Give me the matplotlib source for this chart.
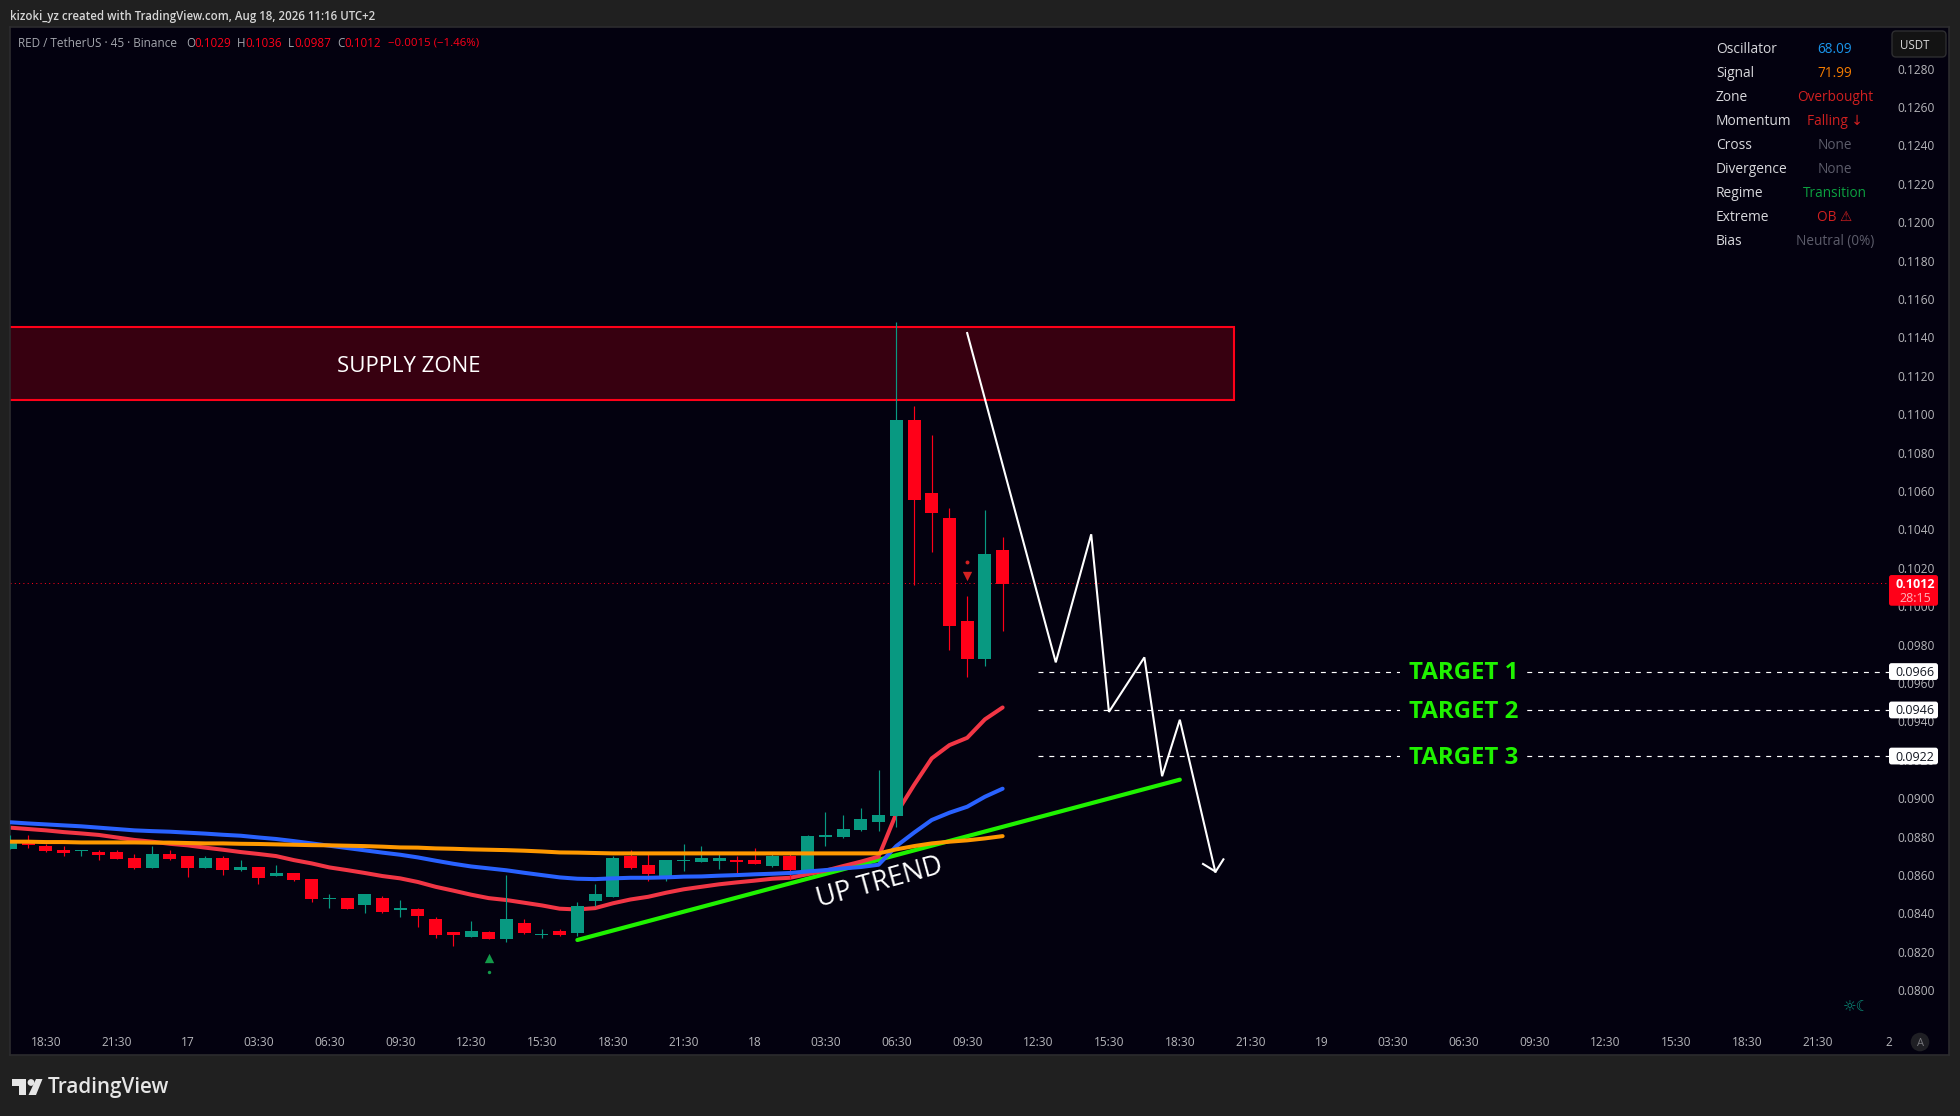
import numpy as np
import matplotlib
matplotlib.use("Agg")
import matplotlib.pyplot as plt
from matplotlib.patches import FancyBboxPatch, Polygon, Circle
from matplotlib.transforms import IdentityTransform

plt.rcParams['font.family'] = ['Open Sans', 'DejaVu Sans']

# ---------- data ----------
opens = [.08736,.08774,.08751,.08730,.08725,.08720,.08720,.08689,.08637,.08710,
         .08699,.08637,.08689,.08626,.08642,.08595,.08611,.08579,.08475,.08480,
         .08444,.08480,.08420,.08423,.08371,.08303,.08277,.08303,.08267,.08350,
         .08288,.08309,.08298,.08465,.08486,.08699,.08652,.08595,.08673,.08668,
         .08673,.08678,.08678,.08647,.08699,.08626,.08798,.08798,.08835,.08876,
         .08907,.10970,.10590,.10460,.09923,.09725,.10293]
highs = [.08809,.08809,.08760,.08751,.08730,.08730,.08730,.08710,.08753,.08730,
         .08699,.08699,.08699,.08678,.08642,.08652,.08611,.08579,.08501,.08480,
         .08501,.08491,.08470,.08428,.08381,.08303,.08361,.08309,.08600,.08371,
         .08319,.08319,.08460,.08553,.08699,.08730,.08710,.08678,.08762,.08751,
         .08710,.08699,.08741,.08720,.08720,.08809,.08928,.08913,.08949,.09147,
         .11480,.11043,.10892,.10512,.10053,.10501,.10361]
lows = [.08736,.08741,.08722,.08699,.08699,.08678,.08684,.08631,.08637,.08678,
        .08590,.08637,.08600,.08621,.08553,.08595,.08569,.08460,.08428,.08423,
        .08402,.08402,.08381,.08329,.08272,.08230,.08277,.08267,.08251,.08293,
        .08272,.08283,.08283,.08439,.08486,.08631,.08569,.08569,.08621,.08668,
        .08631,.08611,.08657,.08642,.08579,.08626,.08751,.08793,.08829,.08829,
        .08850,.10111,.10283,.09772,.09631,.09689,.09871]
closes = [.08774,.08756,.08725,.08717,.08730,.08704,.08684,.08637,.08710,.08684,
          .08637,.08689,.08626,.08642,.08585,.08611,.08574,.08475,.08480,.08423,
          .08501,.08408,.08428,.08387,.08288,.08288,.08309,.08267,.08371,.08298,
          .08293,.08288,.08439,.08501,.08689,.08637,.08605,.08678,.08678,.08689,
          .08689,.08668,.08657,.08699,.08626,.08803,.08809,.08840,.08892,.08913,
          .10970,.10553,.10486,.09897,.09725,.10272,.10116]
ema_blue = [.08875,.08869,.08864,.08859,.08854,.08847,.08840,.08833,.08829,.08826,
            .08821,.08816,.08810,.08805,.08796,.08788,.08777,.08765,.08753,.08741,
            .08729,.08717,.08706,.08692,.08675,.08659,.08645,.08635,.08625,.08612,
            .08600,.08588,.08581,.08579,.08583,.08586,.08586,.08588,.08592,.08593,
            .08597,.08600,.08604,.08607,.08611,.08619,.08626,.08635,.08642,.08654,
            .08751,.08821,.08887,.08925,.08956,.09008,.09050]
ema_red = [.08847,.08840,.08833,.08824,.08817,.08809,.08796,.08783,.08774,.08763,
           .08755,.08743,.08732,.08720,.08710,.08699,.08678,.08661,.08640,.08626,
           .08611,.08595,.08583,.08564,.08539,.08519,.08498,.08480,.08470,.08456,
           .08442,.08425,.08421,.08428,.08453,.08473,.08487,.08508,.08526,.08539,
           .08552,.08562,.08571,.08581,.08586,.08605,.08623,.08647,.08670,.08696,
           .08921,.09069,.09208,.09277,.09315,.09411,.09473]
ema_orange = [.08774,.08774,.08772,.08772,.08770,.08770,.08770,.08770,.08769,.08769,
              .08767,.08765,.08765,.08763,.08762,.08760,.08758,.08756,.08755,.08753,
              .08751,.08748,.08744,.08743,.08739,.08737,.08734,.08732,.08730,.08727,
              .08723,.08718,.08717,.08715,.08713,.08713,.08713,.08713,.08713,.08713,
              .08713,.08713,.08713,.08713,.08713,.08713,.08713,.08713,.08713,.08713,
              .08734,.08751,.08765,.08774,.08781,.08791,.08803]
path_bars = [54, 59, 61, 62, 64, 65, 66, 68]
path_prices = [.11423, .09708, .10375, .09450, .09734, .09115, .09409, .08618]
head_bars = [67.31, 68.02, 68.46]
head_prices = [.08658, .08618, .08682]
trend_bars = [32, 66]
trend_prices = [.08262, .09097]
zone_top, zone_bottom, zone_end = .11455, .11074, 69.07
last_price = .1012
target_prices = [.0966, .0946, .0922]
target_names = ["TARGET 1", "TARGET 2", "TARGET 3"]
target_tags = ["0.0966", "0.0946", "0.0922"]
price_ticks = [round(.08 + .002 * k, 3) for k in range(25)]
time_labels = ["18:30","21:30","17","03:30","06:30","09:30","12:30","15:30",
               "18:30","21:30","18","03:30","06:30","09:30","12:30","15:30",
               "18:30","21:30","19","03:30","06:30","09:30","12:30","15:30",
               "18:30","21:30","2"]
table_names = ["Oscillator","Signal","Zone","Momentum","Cross","Divergence","Regime","Extreme","Bias"]
table_values = ["68.09","71.99","Overbought","Falling ↓","None","None","Transition","OB ⚠","Neutral (0%)"]
table_colors = ["#1a96ec","#f57c00","#d02020","#d02020","#5c5c6a","#5c5c6a","#0ca040","#d02020","#5c5c6a"]

# ---------- style ----------
W, H = 1960, 1116
FRAME, BG = "#202020", "#03010f"
UP, DOWN = "#089981", "#ff0018"
GREY = "#b6b6ba"

fig = plt.figure(figsize=(W / 100, H / 100), dpi=100, facecolor=FRAME)
ax = fig.add_axes([10 / W, 1 - 1055 / H, 1939 / W, 1028 / H], facecolor=BG)
ax.set_xlim(-0.02, 109.41)
ax.set_ylim(.07663, .13017)
for s in ax.spines.values():
    s.set_color("#2c2c2e")
    s.set_linewidth(1.2)

def ftext(x, y, s, **kw):
    kw.setdefault("va", "center")
    return fig.text(x / W, 1 - (y + 1.2) / H, s, **kw)

bars = np.arange(len(opens))
opens, highs, lows, closes = map(np.array, (opens, highs, lows, closes))
colors = [UP if c >= o else DOWN for o, c in zip(opens, closes)]

# supply zone
ax.fill_between([0, zone_end], zone_bottom, zone_top, facecolor="#370010", edgecolor="none", zorder=0.4)
ax.plot([0, zone_end, zone_end, 0], [zone_top, zone_top, zone_bottom, zone_bottom],
        color=DOWN, lw=1.5, zorder=0.5, solid_joinstyle="miter")
ax.text(22.5, (zone_top + zone_bottom) / 2 - .00015, "SUPPLY ZONE", color="white", fontsize=16,
        fontweight="medium", ha="center", va="center", zorder=6)

# last price line
ax.plot([0, 106], [last_price, last_price], color=DOWN, lw=0.72, ls=(0, (1, 3.3)), zorder=1)

# indicators under candles
ax.plot(trend_bars, trend_prices, color="#1ff200", lw=3, solid_capstyle="round", zorder=1.5)
ax.plot(bars, ema_red, color="#f23645", lw=2.9, solid_capstyle="round", zorder=2)

# candles
ax.vlines(bars, lows, highs, colors=colors, lw=0.85, zorder=3)
ax.bar(bars, closes - opens, bottom=opens, width=13 / 17.72, color=colors, linewidth=0, zorder=3)

# indicators over candles
ax.plot(bars, ema_blue, color="#2962ff", lw=2.9, solid_capstyle="round", zorder=4)
ax.plot(bars, ema_orange, color="#ff9800", lw=2.9, solid_capstyle="round", zorder=5)

# hand-drawn path
ax.plot(path_bars, path_prices, color="white", lw=1.5, zorder=6, solid_joinstyle="miter")
ax.plot(head_bars, head_prices, color="white", lw=1.5, zorder=6, solid_joinstyle="miter")

# signals
ax.scatter([27], [.08167], marker="^", s=45, color="#139a4a", linewidths=0, zorder=6)
ax.scatter([27], [.08094], marker="o", s=6, color="#139a4a", linewidths=0, zorder=6)
ax.scatter([54], [.10159], marker="v", s=45, color="#d32222", linewidths=0, zorder=6)
ax.scatter([54], [.10229], marker="o", s=8, color="#d32222", linewidths=0, zorder=6)

# targets
for p, name in zip(target_prices, target_names):
    ax.plot([58, 106], [p, p], color="white", lw=0.85, ls=(0, (4.2, 5)), zorder=1.2)
    ax.text(82.0, p - .00008, name, color="#1ff200", fontsize=17.3, fontweight="bold", ha="center", va="center",
            zorder=6, bbox=dict(facecolor=BG, edgecolor="none", pad=6.5))

ax.text(49.06, .08558, "UP TREND", color="white", fontsize=19.5, fontweight="medium", rotation=15.5,
        rotation_mode="anchor", ha="center", va="center", zorder=6)

# axes ticks
ax.yaxis.tick_right()
ax.set_yticks(price_ticks)
ax.set_yticklabels([f"{p:.4f}" for p in price_ticks])
ax.tick_params(axis="y", length=0, pad=-37.5, labelsize=8.6, labelcolor=GREY)
ax.set_xticks(np.arange(2, 107, 4))
ax.set_xticklabels(time_labels)
ax.tick_params(axis="x", length=0, pad=-13.4, labelsize=8.6, labelcolor=GREY)

fig.canvas.draw()
id_tf = IdentityTransform()

def box(x0, y0, x1, y1, face, edge="none", r=2.5):
    fig.add_artist(FancyBboxPatch((x0 + r, y0 + r), x1 - x0 - 2 * r, y1 - y0 - 2 * r,
                                  boxstyle=f"round,pad={r},rounding_size={r}",
                                  facecolor=face, edgecolor=edge, lw=1, transform=id_tf, zorder=5))

# price tags
for p, tag in zip(target_prices, target_tags):
    yd = ax.transData.transform((0, p))[1]
    box(1889, yd - 8.4, 1938, yd + 8.4, "white")
    fig.text(1915 / W, (yd - 1) / H, tag, color="#131722", fontsize=9, ha="center", va="center", zorder=6)
yd = ax.transData.transform((0, last_price))[1]
box(1889, yd - 22.5, 1938, yd + 8.2, DOWN)
fig.text(1915 / W, (yd - 1) / H, f"{last_price:.4f}", color="white", fontsize=9, fontweight="bold",
         ha="center", va="center", zorder=6)
ftext(1915, 597.5, "28:15", color="#ffb0b8", fontsize=9, ha="center", zorder=6)

# USDT button
box(1892, 1116 - 57, 1946, 1116 - 31, "#131313", "#2e2e30", r=4)
ftext(1915, 44.5, "USDT", color="#d8d8d8", fontsize=8.3, ha="center", zorder=6)

# status table
for k, (n, v, c) in enumerate(zip(table_names, table_values, table_colors)):
    y = 48.3 + 24 * k
    ftext(1716, y, n, color="#d8d8dc", fontsize=9.9, zorder=6)
    ftext(1835, y, v, color=c, fontsize=9.8, ha="center", zorder=6)

# header
ftext(10, 15, "kizoki_yz created with TradingView.com, Aug 18, 2026 11:16 UTC+2",
      color="#d6d6d6", fontsize=8.3, fontweight="semibold")
LEG = 42
ftext(18, LEG, "RED / TetherUS · 45 · Binance", color="#a4a6ad", fontsize=8.5, zorder=6)
for x, s, c in [(186, "O", "#a4a6ad"), (194, "0.1029", DOWN), (237, "H", "#a4a6ad"), (245, "0.1036", DOWN),
                (288, "L", "#a4a6ad"), (294, "0.0987", DOWN), (337, "C", "#a4a6ad"), (344.7, "0.1012", DOWN)]:
    ftext(x, LEG, s, color=c, fontsize=8.4, zorder=6)
ftext(387.7, LEG, "−0.0015 (−1.46%)", color=DOWN, fontsize=8.2, zorder=6)

# bottom-right widgets
ftext(1856, 1005, "☼☾", color="#0b8c78", fontsize=11, ha="center", family="DejaVu Sans", zorder=6)
fig.add_artist(Circle((1920, 1116 - 1042), 9.3, facecolor="#1f1f24", edgecolor="none", transform=id_tf, zorder=5))
ftext(1920, 1042, "A", color="#77777c", fontsize=8, ha="center", zorder=6)

# TradingView logo
LOGO = "#e6e6e6"
fig.add_artist(Polygon([(12, 1116 - 1079), (26, 1116 - 1079), (26, 1116 - 1095), (19, 1116 - 1095),
                        (19, 1116 - 1086), (12, 1116 - 1086)], closed=True, facecolor=LOGO,
                       edgecolor="none", transform=id_tf, zorder=5))
fig.add_artist(Circle((31, 1116 - 1082.5), 3.4, facecolor=LOGO, edgecolor="none", transform=id_tf, zorder=5))
fig.add_artist(Polygon([(36, 1116 - 1079), (42.5, 1116 - 1079), (36, 1116 - 1095), (28.5, 1116 - 1095)],
                       closed=True, facecolor=LOGO, edgecolor="none", transform=id_tf, zorder=5))
ftext(48, 1086.5, "TradingView", color=LOGO, fontsize=14.9, fontweight="semibold", zorder=6)

fig.savefig("out.png", dpi=100, facecolor=FRAME)
